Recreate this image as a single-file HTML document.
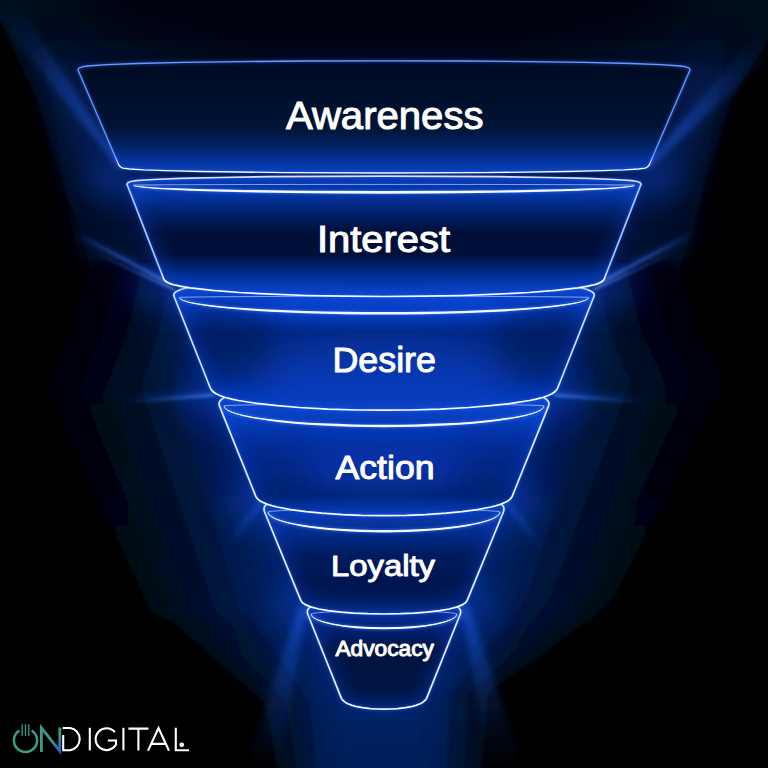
<!DOCTYPE html>
<html><head><meta charset="utf-8"><style>
html,body{margin:0;padding:0;background:#000;width:768px;height:768px;overflow:hidden}
svg{display:block}
</style></head><body>
<svg width="768" height="768" viewBox="0 0 768 768">
<defs>
<filter id="b2" filterUnits="userSpaceOnUse" x="-100" y="-100" width="968" height="968"><feGaussianBlur stdDeviation="1.5"/></filter>
<filter id="b3" filterUnits="userSpaceOnUse" x="-200" y="-200" width="1168" height="1168"><feGaussianBlur stdDeviation="3"/></filter>
<filter id="b8" filterUnits="userSpaceOnUse" x="-200" y="-200" width="1168" height="1168"><feGaussianBlur stdDeviation="8"/></filter>
<filter id="b14" filterUnits="userSpaceOnUse" x="-200" y="-200" width="1168" height="1168"><feGaussianBlur stdDeviation="14"/></filter>
<filter id="b25" filterUnits="userSpaceOnUse" x="-200" y="-200" width="1168" height="1168"><feGaussianBlur stdDeviation="25"/></filter>
<filter id="b40" filterUnits="userSpaceOnUse" x="-200" y="-200" width="1168" height="1168"><feGaussianBlur stdDeviation="40"/></filter>
<linearGradient id="g_Awareness" gradientUnits="userSpaceOnUse" x1="0" y1="60.8" x2="0" y2="173"><stop offset="0.0018" stop-color="#000b22"/><stop offset="0.3494" stop-color="#000f2c"/><stop offset="0.5989" stop-color="#001436"/><stop offset="0.7772" stop-color="#02246a"/><stop offset="0.9109" stop-color="#0636a5"/><stop offset="1.0000" stop-color="#0842bc"/></linearGradient>
<linearGradient id="s_Awareness" gradientUnits="userSpaceOnUse" x1="0" y1="60.8" x2="0" y2="173"><stop offset="0" stop-color="#6d9cff"/><stop offset="0.120" stop-color="#6d9cff"/><stop offset="0.848" stop-color="#6d9cff"/><stop offset="0.938" stop-color="#f4f8ff"/></linearGradient>
<linearGradient id="g_Interest" gradientUnits="userSpaceOnUse" x1="0" y1="176.1" x2="0" y2="296.5"><stop offset="0.0000" stop-color="#0638b0"/><stop offset="0.1570" stop-color="#0536a5"/><stop offset="0.3065" stop-color="#01206a"/><stop offset="0.4726" stop-color="#000f36"/><stop offset="0.6553" stop-color="#00103e"/><stop offset="0.7965" stop-color="#022a85"/><stop offset="0.9460" stop-color="#0840c0"/><stop offset="1.0000" stop-color="#0944c5"/></linearGradient>
<linearGradient id="s_Interest" gradientUnits="userSpaceOnUse" x1="0" y1="176.1" x2="0" y2="296.5"><stop offset="0" stop-color="#dfe8ff"/><stop offset="0.120" stop-color="#a9c3ff"/><stop offset="0.780" stop-color="#a9c3ff"/><stop offset="0.863" stop-color="#f4f8ff"/></linearGradient>
<linearGradient id="g_Desire" gradientUnits="userSpaceOnUse" x1="0" y1="276.7" x2="0" y2="410.2"><stop offset="0.0022" stop-color="#0a45d0"/><stop offset="0.1745" stop-color="#0a45d0"/><stop offset="0.3094" stop-color="#0638b5"/><stop offset="0.4142" stop-color="#02237a"/><stop offset="0.5640" stop-color="#02287f"/><stop offset="0.7738" stop-color="#0433a5"/><stop offset="0.9236" stop-color="#063bb8"/><stop offset="0.9985" stop-color="#0a45cc"/></linearGradient>
<linearGradient id="s_Desire" gradientUnits="userSpaceOnUse" x1="0" y1="276.7" x2="0" y2="410.2"><stop offset="0" stop-color="#dfe8ff"/><stop offset="0.120" stop-color="#d0deff"/><stop offset="0.768" stop-color="#d0deff"/><stop offset="0.843" stop-color="#f4f8ff"/></linearGradient>
<linearGradient id="g_Action" gradientUnits="userSpaceOnUse" x1="0" y1="381.2" x2="0" y2="515.6"><stop offset="0.0000" stop-color="#0a45c8"/><stop offset="0.2143" stop-color="#0a45c8"/><stop offset="0.3631" stop-color="#0638b0"/><stop offset="0.4896" stop-color="#04309e"/><stop offset="0.6756" stop-color="#042e9a"/><stop offset="0.8467" stop-color="#02236e"/><stop offset="0.9435" stop-color="#0533a0"/><stop offset="1.0000" stop-color="#0840b8"/></linearGradient>
<linearGradient id="s_Action" gradientUnits="userSpaceOnUse" x1="0" y1="381.2" x2="0" y2="515.6"><stop offset="0" stop-color="#dfe8ff"/><stop offset="0.120" stop-color="#dde7ff"/><stop offset="0.787" stop-color="#dde7ff"/><stop offset="0.862" stop-color="#f4f8ff"/></linearGradient>
<linearGradient id="g_Loyalty" gradientUnits="userSpaceOnUse" x1="0" y1="486.7" x2="0" y2="614"><stop offset="0.0024" stop-color="#083ab0"/><stop offset="0.2223" stop-color="#083ab0"/><stop offset="0.3794" stop-color="#042a88"/><stop offset="0.5365" stop-color="#001c5e"/><stop offset="0.7329" stop-color="#001552"/><stop offset="0.8900" stop-color="#001a58"/><stop offset="1.0000" stop-color="#042a85"/></linearGradient>
<linearGradient id="s_Loyalty" gradientUnits="userSpaceOnUse" x1="0" y1="486.7" x2="0" y2="614"><stop offset="0" stop-color="#dfe8ff"/><stop offset="0.120" stop-color="#e4ecff"/><stop offset="0.821" stop-color="#e4ecff"/><stop offset="0.899" stop-color="#f4f8ff"/></linearGradient>
<linearGradient id="g_Advocacy" gradientUnits="userSpaceOnUse" x1="0" y1="595.1" x2="0" y2="709.2"><stop offset="0.0000" stop-color="#06309a"/><stop offset="0.1481" stop-color="#06309a"/><stop offset="0.3059" stop-color="#022070"/><stop offset="0.4812" stop-color="#00143f"/><stop offset="0.8317" stop-color="#001545"/><stop offset="0.9982" stop-color="#001a55"/></linearGradient>
<linearGradient id="s_Advocacy" gradientUnits="userSpaceOnUse" x1="0" y1="595.1" x2="0" y2="709.2"><stop offset="0" stop-color="#dfe8ff"/><stop offset="0.120" stop-color="#e4ecff"/><stop offset="0.823" stop-color="#e4ecff"/><stop offset="0.911" stop-color="#f4f8ff"/></linearGradient>
</defs>
<rect width="768" height="768" fill="#000"/>
<g filter="url(#b3)">
<polygon points="-30,-30 -30,20 0,20 37,100 62,183 83,237 92,280 676,280 688,245 706,183 731,100 768,40 798,40 798,-30" fill="#000a1e"/>
</g>
<g filter="url(#b3)">
<linearGradient id="lg0" gradientUnits="userSpaceOnUse" x1="0" y1="380" x2="0" y2="660"><stop offset="0" stop-color="#01030a"/><stop offset="1" stop-color="#010a1c"/></linearGradient>
<polygon points="92,262 71,333 46,387 151,612 176,625 265,703 283,800 480,800 488,693 594,617 614,597 726,382 698,333 676,262" fill="url(#lg0)"/>
<linearGradient id="lg1" gradientUnits="userSpaceOnUse" x1="0" y1="380" x2="0" y2="660"><stop offset="0" stop-color="#000614"/><stop offset="1" stop-color="#000e26"/></linearGradient>
<polygon points="121.2,262 102.3,333 79.8,387 174.3,612 196.8,625 276.9,703 293.1,800 470.4,800 477.6,693 573,617 591,597 691.8,382 666.6,333 646.8,262" fill="url(#lg1)"/>
<linearGradient id="lg2" gradientUnits="userSpaceOnUse" x1="0" y1="380" x2="0" y2="660"><stop offset="0" stop-color="#000b22"/><stop offset="1" stop-color="#001230"/></linearGradient>
<polygon points="144.6,262 127.3,333 106.8,387 192.9,612 213.4,625 286.4,703 301.2,800 462.7,800 469.3,693 556.2,617 572.6,597 664.4,382 641.5,333 623.4,262" fill="url(#lg2)"/>
<linearGradient id="lg3" gradientUnits="userSpaceOnUse" x1="0" y1="380" x2="0" y2="660"><stop offset="0" stop-color="#001235"/><stop offset="1" stop-color="#00173e"/></linearGradient>
<polygon points="173.8,262 158.6,333 140.6,387 216.2,612 234.2,625 298.3,703 311.3,800 453.1,800 458.9,693 535.2,617 549.6,597 630.2,382 610.1,333 594.2,262" fill="url(#lg3)"/>
<linearGradient id="lg4" gradientUnits="userSpaceOnUse" x1="0" y1="380" x2="0" y2="660"><stop offset="0" stop-color="#001846"/><stop offset="1" stop-color="#001c50"/></linearGradient>
<polygon points="203,262 189.9,333 174.4,387 239.5,612 255,625 310.2,703 321.4,800 443.5,800 448.5,693 514.2,617 526.6,597 596,382 578.7,333 565,262" fill="url(#lg4)"/>
</g>
<polygon points="238,262 227.5,333 215,387 267.5,612 280,625 324.5,703 333.5,800 432,800 436,693 489,617 499,597 555,382 541,333 530,262" fill="#002060" opacity="0.7" filter="url(#b14)"/>
<polygon points="40,40 728,40 690,260 78,260" fill="#000f30" opacity="0.6" filter="url(#b14)"/>
<ellipse cx="384" cy="0" rx="300" ry="60" fill="#000510" opacity="0.8" filter="url(#b14)"/>
<polygon points="40,60 80,70 122,168 170,200 90,200" fill="#0a3aa0" opacity="0.35" filter="url(#b14)"/>
<polygon points="728,60 688,70 646,168 598,200 678,200" fill="#0a3aa0" opacity="0.35" filter="url(#b14)"/>
<path d="M113 184.3 L113.6 181.8 L115.6 179.4 L118.9 177.3 L123.3 175.6 L129.2 174.4 L132.6 173.9 L151.2 172.6 L192.4 171.1 L246.8 170 L312.4 169.3 L384 169.1 L455.6 169.3 L521.2 170 L575.6 171.1 L616.8 172.6 L635.4 173.9 L638.8 174.4 L644.7 175.6 L649.1 177.3 L652.4 179.4 L654.4 181.8 L655 184.3 L654.4 186.8 L616.4 285.9 L612.8 290.7 L608.3 294.1 L606.8 294.9 L601.3 297.2 L597.6 298.4 L586.2 300.7 L562 303.8 L536.7 306 L506.3 307.8 L466.7 309.3 L428.9 310.2 L384 310.5 L339.1 310.2 L301.3 309.3 L261.7 307.8 L231.3 306 L206 303.8 L181.8 300.7 L170.4 298.4 L166.7 297.2 L161.2 294.9 L159.7 294.1 L155.2 290.7 L151.6 285.9 L113.6 186.8 Z" fill="#0634a8" opacity="0.24" filter="url(#b25)"/>
<path d="M124 184.3 L124.3 183.3 L125.2 182.2 L126.7 181.2 L128.8 180.4 L133 179.5 L146.5 178.4 L169.1 177.3 L210.5 176.2 L263.8 175.3 L325.2 174.8 L384 174.6 L442.8 174.8 L504.2 175.3 L557.5 176.2 L598.9 177.3 L621.5 178.4 L635 179.5 L639.2 180.4 L641.3 181.2 L642.8 182.2 L643.7 183.3 L644 184.3 L606.9 280.4 L605 282.9 L602.8 284.5 L601.3 285.4 L597.4 287 L593.2 288.1 L587.7 289.3 L578.5 290.8 L555.4 293.4 L528.5 295.5 L496.9 297.2 L461.4 298.5 L423.4 299.2 L384 299.5 L344.6 299.2 L306.6 298.5 L271.1 297.2 L239.5 295.5 L212.6 293.4 L189.5 290.8 L180.3 289.3 L174.8 288.1 L170.6 287 L166.7 285.4 L165.2 284.5 L163 282.9 L161.1 280.4 Z" fill="#0838b0" opacity="0.18" filter="url(#b8)"/>
<path d="M159.7 295 L160.6 291.7 L163.4 288.6 L167.8 285.8 L173.7 283.5 L179.2 281.9 L189.4 279.8 L198.7 278.3 L209.9 276.9 L223 275.6 L241.7 274.1 L263.3 272.7 L286 271.6 L330.9 270.2 L384 269.7 L437.1 270.2 L482 271.6 L504.7 272.7 L526.3 274.1 L545 275.6 L558.1 276.9 L569.3 278.3 L578.6 279.8 L588.8 281.9 L594.3 283.5 L600.2 285.8 L604.6 288.6 L607.4 291.7 L608.3 295 L607.6 297.9 L569.5 395.7 L565.3 401.2 L559.1 405.8 L548.5 410.2 L537.7 413.1 L520.5 416.1 L497.3 419.1 L472.5 421.3 L444.7 422.9 L414.9 423.9 L384 424.2 L353.1 423.9 L323.3 422.9 L295.5 421.3 L270.7 419.1 L247.5 416.1 L230.3 413.1 L219.5 410.2 L208.9 405.8 L202.7 401.2 L198.5 395.7 L160.4 297.9 Z" fill="#0634a8" opacity="0.4" filter="url(#b25)"/>
<path d="M170.7 295 L171 293.6 L172.1 292.2 L172.9 291.3 L174.8 290.1 L179.2 288.3 L183.2 287 L190.3 285.5 L199 284 L209.8 282.5 L222.4 281.2 L254.8 278.7 L295.6 276.7 L341.3 275.5 L384 275.2 L426.7 275.5 L472.4 276.7 L513.2 278.7 L545.6 281.2 L558.2 282.5 L569 284 L577.7 285.5 L584.8 287 L588.8 288.3 L593.2 290.1 L595.1 291.3 L595.9 292.2 L597 293.6 L597.3 295 L597 296.4 L560 390.2 L557.5 393.5 L553.6 396.3 L548.4 398.6 L544.1 400.1 L532.7 402.9 L514.8 405.9 L494 408.4 L472.5 410.3 L444.7 411.9 L414.9 412.9 L384 413.2 L357.5 413 L327.5 412.1 L299.4 410.5 L274 408.4 L253.2 405.9 L235.3 402.9 L223.9 400.1 L219.6 398.6 L214.4 396.3 L210.5 393.5 L208 390.2 L171 296.4 Z" fill="#0838b0" opacity="0.3" filter="url(#b8)"/>
<path d="M205 403.6 L205.9 399.7 L207.8 395.1 L210.8 391.2 L214.7 388.2 L219.3 386.3 L272 379.6 L299.1 377.2 L318.9 375.9 L338.6 375 L363.1 374.4 L384 374.2 L409 374.4 L429.4 375 L449.1 375.9 L468.9 377.2 L496 379.6 L548.7 386.3 L553.3 388.2 L557.2 391.2 L560.2 395.1 L562.1 399.7 L563 403.6 L562.1 409.6 L524.3 503.4 L520.4 508.7 L514.8 513.1 L511.4 514.9 L504.7 517.7 L496.3 520.2 L483.2 522.8 L467 525.1 L448.8 527 L428.4 528.4 L406.6 529.3 L384 529.6 L361.4 529.3 L339.6 528.4 L319.2 527 L301 525.1 L284.8 522.8 L271.7 520.2 L263.3 517.7 L256.6 514.9 L253.2 513.1 L247.6 508.7 L243.7 503.4 L205.9 409.6 Z" fill="#0634a8" opacity="0.4" filter="url(#b25)"/>
<path d="M216 403.6 L216.8 401 L219 398.5 L222.8 396.1 L227.8 394 L233.8 392 L241.4 390.2 L250.1 388.5 L260.3 386.8 L284.5 383.9 L315.1 381.6 L346.6 380.2 L384 379.7 L421.4 380.2 L452.9 381.6 L483.5 383.9 L507.7 386.8 L517.9 388.5 L526.6 390.2 L534.2 392 L540.2 394 L545.2 396.1 L549 398.5 L551.2 401 L552 403.6 L551.5 406.7 L514.8 497.9 L512.6 501 L509.3 503.6 L506.9 504.9 L501.8 507 L493.5 509.5 L480.4 512.2 L464.5 514.4 L446 516.2 L428.4 517.4 L406.6 518.3 L384 518.6 L361.4 518.3 L339.6 517.4 L322 516.2 L303.5 514.4 L287.6 512.2 L274.5 509.5 L266.2 507 L261.1 504.9 L258.7 503.6 L255.4 501 L253.2 497.9 L216.5 406.7 Z" fill="#0838b0" opacity="0.3" filter="url(#b8)"/>
<path d="M250 509 L250.8 505.1 L252.7 500.5 L255.7 496.6 L259.7 493.6 L264.2 491.7 L302.1 485.1 L321.6 482.7 L335.1 481.5 L354.2 480.4 L369 479.9 L384 479.7 L399 479.9 L413.8 480.4 L432.9 481.5 L446.4 482.7 L465.9 485.1 L503.8 491.7 L508.3 493.6 L512.3 496.6 L515.3 500.5 L517.2 505.1 L518 509 L517 515.5 L481.2 602.7 L479.2 607.6 L475.5 612.5 L469.8 616.7 L462.7 619.8 L456.3 621.7 L447.6 623.4 L432.1 625.6 L418 626.9 L400.4 627.7 L384 628 L367.6 627.7 L350 626.9 L335.9 625.6 L320.4 623.4 L311.7 621.7 L305.3 619.8 L298.2 616.7 L292.5 612.5 L288.8 607.6 L286.8 602.7 L251 515.5 Z" fill="#0634a8" opacity="0.27999999999999997" filter="url(#b25)"/>
<path d="M261 509 L261.6 506.4 L263.5 503.9 L266 501.9 L269.9 499.6 L276.2 497 L281.9 495.2 L288.8 493.5 L296.5 491.9 L314.3 489.1 L335.2 487 L360.1 485.6 L384 485.2 L407.9 485.6 L432.8 487 L453.7 489.1 L471.5 491.9 L479.2 493.5 L486.1 495.2 L491.8 497 L498.1 499.6 L502 501.9 L504.5 503.9 L506.4 506.4 L507 509 L506.4 512.6 L470.6 599.9 L469.7 602.1 L467.7 604.7 L464.3 607.2 L458.2 609.7 L451.2 611.6 L441.9 613.3 L428.7 614.9 L416.1 616 L400.4 616.7 L384 617 L367.6 616.7 L351.9 616 L339.3 614.9 L326.1 613.3 L316.8 611.6 L309.8 609.7 L303.7 607.2 L300.3 604.7 L298.3 602.1 L297.4 599.9 L261.6 512.6 Z" fill="#0838b0" opacity="0.21" filter="url(#b8)"/>
<path d="M293.3 611.7 L294.2 607.9 L296.1 603.3 L299.1 599.4 L303 596.4 L307.6 594.5 L351.6 589.5 L369.1 588.4 L384 588.1 L398.9 588.4 L416.4 589.5 L460.4 594.5 L465 596.4 L468.9 599.4 L471.9 603.3 L473.8 607.9 L474.7 611.7 L473.8 617.7 L440.5 700.9 L438.5 705.7 L435.2 710.1 L434 711.3 L428.6 715.2 L421.7 718.2 L416.8 719.7 L409.8 721.1 L399.6 722.4 L392 723 L384 723.2 L376 723 L368.4 722.4 L358.2 721.1 L351.2 719.7 L346.3 718.2 L339.4 715.2 L334 711.3 L332.8 710.1 L329.5 705.7 L327.5 700.9 L294.2 617.7 Z" fill="#0634a8" opacity="0.27999999999999997" filter="url(#b25)"/>
<path d="M304.3 611.7 L304.8 609.6 L305.5 608.5 L307.4 606.4 L310.2 604.5 L312.8 603.1 L317 601.5 L325.5 599.1 L336.8 596.9 L351.1 595.1 L367.3 594 L384 593.6 L400.7 594 L416.9 595.1 L431.2 596.9 L442.5 599.1 L451 601.5 L455.2 603.1 L457.8 604.5 L460.6 606.4 L462.5 608.5 L463.2 609.6 L463.7 611.7 L463.2 614.9 L429.9 698 L429 700.2 L427.4 702.3 L424.5 704.8 L422.2 706.1 L417.7 707.9 L412.5 709.4 L407 710.4 L398.7 711.5 L391 712 L384 712.2 L377 712 L369.3 711.5 L361 710.4 L355.5 709.4 L350.3 707.9 L345.8 706.1 L343.5 704.8 L340.6 702.3 L339 700.2 L338.1 698 L304.8 614.9 Z" fill="#0838b0" opacity="0.21" filter="url(#b8)"/>
<ellipse cx="128" cy="175.5" rx="42" ry="24" fill="#0a45d0" opacity="0.25" filter="url(#b14)"/>
<ellipse cx="640" cy="175.5" rx="42" ry="24" fill="#0a45d0" opacity="0.25" filter="url(#b14)"/>
<ellipse cx="173" cy="286.5" rx="42" ry="24" fill="#0a45d0" opacity="0.35" filter="url(#b14)"/>
<ellipse cx="595" cy="286.5" rx="42" ry="24" fill="#0a45d0" opacity="0.35" filter="url(#b14)"/>
<ellipse cx="220" cy="395.5" rx="42" ry="24" fill="#0a45d0" opacity="0.35" filter="url(#b14)"/>
<ellipse cx="548" cy="395.5" rx="42" ry="24" fill="#0a45d0" opacity="0.35" filter="url(#b14)"/>
<ellipse cx="265" cy="502" rx="42" ry="24" fill="#0a45d0" opacity="0.35" filter="url(#b14)"/>
<ellipse cx="503" cy="502" rx="42" ry="24" fill="#0a45d0" opacity="0.35" filter="url(#b14)"/>
<ellipse cx="310" cy="605.5" rx="42" ry="24" fill="#0a45d0" opacity="0.3" filter="url(#b14)"/>
<ellipse cx="458" cy="605.5" rx="42" ry="24" fill="#0a45d0" opacity="0.3" filter="url(#b14)"/>
<defs><linearGradient id="r0" gradientUnits="userSpaceOnUse" x1="0" y1="0" x2="122" y2="168"><stop offset="0" stop-color="#1a5cff" stop-opacity="0"/><stop offset="1" stop-color="#2a6cff" stop-opacity="0.5"/></linearGradient><linearGradient id="r1" gradientUnits="userSpaceOnUse" x1="768" y1="40" x2="646" y2="168"><stop offset="0" stop-color="#1a5cff" stop-opacity="0"/><stop offset="1" stop-color="#2a6cff" stop-opacity="0.5"/></linearGradient><linearGradient id="r2" gradientUnits="userSpaceOnUse" x1="70" y1="232" x2="170" y2="282"><stop offset="0" stop-color="#1a5cff" stop-opacity="0"/><stop offset="1" stop-color="#2a6cff" stop-opacity="0.7"/></linearGradient><linearGradient id="r3" gradientUnits="userSpaceOnUse" x1="698" y1="232" x2="598" y2="282"><stop offset="0" stop-color="#1a5cff" stop-opacity="0"/><stop offset="1" stop-color="#2a6cff" stop-opacity="0.7"/></linearGradient><linearGradient id="r4" gradientUnits="userSpaceOnUse" x1="120" y1="400" x2="212" y2="394"><stop offset="0" stop-color="#1a5cff" stop-opacity="0"/><stop offset="1" stop-color="#2a6cff" stop-opacity="0.6"/></linearGradient><linearGradient id="r5" gradientUnits="userSpaceOnUse" x1="648" y1="400" x2="556" y2="394"><stop offset="0" stop-color="#1a5cff" stop-opacity="0"/><stop offset="1" stop-color="#2a6cff" stop-opacity="0.6"/></linearGradient><linearGradient id="r6" gradientUnits="userSpaceOnUse" x1="225" y1="548" x2="262" y2="502"><stop offset="0" stop-color="#1a5cff" stop-opacity="0"/><stop offset="1" stop-color="#2a6cff" stop-opacity="0.6"/></linearGradient><linearGradient id="r7" gradientUnits="userSpaceOnUse" x1="543" y1="548" x2="506" y2="502"><stop offset="0" stop-color="#1a5cff" stop-opacity="0"/><stop offset="1" stop-color="#2a6cff" stop-opacity="0.6"/></linearGradient><linearGradient id="r8" gradientUnits="userSpaceOnUse" x1="290" y1="520" x2="262" y2="502"><stop offset="0" stop-color="#1a5cff" stop-opacity="0"/><stop offset="1" stop-color="#2a6cff" stop-opacity="0.4"/></linearGradient><linearGradient id="r9" gradientUnits="userSpaceOnUse" x1="478" y1="520" x2="506" y2="502"><stop offset="0" stop-color="#1a5cff" stop-opacity="0"/><stop offset="1" stop-color="#2a6cff" stop-opacity="0.4"/></linearGradient><linearGradient id="r10" gradientUnits="userSpaceOnUse" x1="262" y1="768" x2="303" y2="606"><stop offset="0" stop-color="#1a5cff" stop-opacity="0"/><stop offset="1" stop-color="#2a6cff" stop-opacity="0.4"/></linearGradient><linearGradient id="r11" gradientUnits="userSpaceOnUse" x1="506" y1="768" x2="465" y2="606"><stop offset="0" stop-color="#1a5cff" stop-opacity="0"/><stop offset="1" stop-color="#2a6cff" stop-opacity="0.4"/></linearGradient><linearGradient id="r12" gradientUnits="userSpaceOnUse" x1="345" y1="540" x2="305" y2="618"><stop offset="0" stop-color="#1a5cff" stop-opacity="0"/><stop offset="1" stop-color="#2a6cff" stop-opacity="0.35"/></linearGradient><linearGradient id="r13" gradientUnits="userSpaceOnUse" x1="423" y1="540" x2="463" y2="618"><stop offset="0" stop-color="#1a5cff" stop-opacity="0"/><stop offset="1" stop-color="#2a6cff" stop-opacity="0.35"/></linearGradient></defs>
<g filter="url(#b3)"><polygon points="-10.5,7.6 119.6,169.8 124.4,166.2 10.5,-7.6" fill="url(#r0)"/><polygon points="758.6,31 643.8,165.9 648.2,170.1 777.4,49" fill="url(#r1)"/><polygon points="68.2,235.6 169.3,283.3 170.7,280.7 71.8,228.4" fill="url(#r2)"/><polygon points="696.2,228.4 597.3,280.7 598.7,283.3 699.8,235.6" fill="url(#r3)"/><polygon points="120.2,403 212.1,395.5 211.9,392.5 119.8,397" fill="url(#r4)"/><polygon points="648.2,397 556.1,392.5 555.9,395.5 647.8,403" fill="url(#r5)"/><polygon points="227.3,549.9 263.2,502.9 260.8,501.1 222.7,546.1" fill="url(#r6)"/><polygon points="545.3,546.1 507.2,501.1 504.8,502.9 540.7,549.9" fill="url(#r7)"/><polygon points="291.4,517.9 262.8,500.7 261.2,503.3 288.6,522.1" fill="url(#r8)"/><polygon points="479.4,522.1 506.8,503.3 505.2,500.7 476.6,517.9" fill="url(#r9)"/><polygon points="278.5,772.2 306.9,607 299.1,605 245.5,763.8" fill="url(#r10)"/><polygon points="522.5,763.8 468.9,605 461.1,607 489.5,772.2" fill="url(#r11)"/><polygon points="343.2,539.1 301.4,616.2 308.6,619.8 346.8,540.9" fill="url(#r12)"/><polygon points="421.2,540.9 459.4,619.8 466.6,616.2 424.8,539.1" fill="url(#r13)"/></g>
<linearGradient id="sl0" gradientUnits="userSpaceOnUse" x1="75" y1="233" x2="170" y2="284"><stop offset="0" stop-color="#4a8aff" stop-opacity="0"/><stop offset="0.6" stop-color="#4a8aff" stop-opacity="0.5"/><stop offset="1" stop-color="#6a9eff" stop-opacity="0.7"/></linearGradient>
<line x1="75" y1="233" x2="170" y2="284" stroke="url(#sl0)" stroke-width="2" filter="url(#b2)"/>
<linearGradient id="sl1" gradientUnits="userSpaceOnUse" x1="693" y1="233" x2="598" y2="284"><stop offset="0" stop-color="#4a8aff" stop-opacity="0"/><stop offset="0.6" stop-color="#4a8aff" stop-opacity="0.5"/><stop offset="1" stop-color="#6a9eff" stop-opacity="0.7"/></linearGradient>
<line x1="693" y1="233" x2="598" y2="284" stroke="url(#sl1)" stroke-width="2" filter="url(#b2)"/>
<linearGradient id="sl2" gradientUnits="userSpaceOnUse" x1="95" y1="253" x2="175" y2="290"><stop offset="0" stop-color="#4a8aff" stop-opacity="0"/><stop offset="0.6" stop-color="#4a8aff" stop-opacity="0.5"/><stop offset="1" stop-color="#6a9eff" stop-opacity="0.7"/></linearGradient>
<line x1="95" y1="253" x2="175" y2="290" stroke="url(#sl2)" stroke-width="2" filter="url(#b2)"/>
<linearGradient id="sl3" gradientUnits="userSpaceOnUse" x1="673" y1="253" x2="593" y2="290"><stop offset="0" stop-color="#4a8aff" stop-opacity="0"/><stop offset="0.6" stop-color="#4a8aff" stop-opacity="0.5"/><stop offset="1" stop-color="#6a9eff" stop-opacity="0.7"/></linearGradient>
<line x1="673" y1="253" x2="593" y2="290" stroke="url(#sl3)" stroke-width="2" filter="url(#b2)"/>
<linearGradient id="sl4" gradientUnits="userSpaceOnUse" x1="130" y1="402" x2="214" y2="395"><stop offset="0" stop-color="#4a8aff" stop-opacity="0"/><stop offset="0.6" stop-color="#4a8aff" stop-opacity="0.5"/><stop offset="1" stop-color="#6a9eff" stop-opacity="0.7"/></linearGradient>
<line x1="130" y1="402" x2="214" y2="395" stroke="url(#sl4)" stroke-width="2" filter="url(#b2)"/>
<linearGradient id="sl5" gradientUnits="userSpaceOnUse" x1="638" y1="402" x2="554" y2="395"><stop offset="0" stop-color="#4a8aff" stop-opacity="0"/><stop offset="0.6" stop-color="#4a8aff" stop-opacity="0.5"/><stop offset="1" stop-color="#6a9eff" stop-opacity="0.7"/></linearGradient>
<line x1="638" y1="402" x2="554" y2="395" stroke="url(#sl5)" stroke-width="2" filter="url(#b2)"/>
<path d="M307.3 611.7 L307.7 609.9 L308.9 608.2 L310.4 606.8 L312.9 605.2 L319.4 602.5 L328.2 600.1 L340.6 597.9 L353.5 596.4 L369.1 595.4 L384 595.1 L398.9 595.4 L414.5 596.4 L427.4 597.9 L439.8 600.1 L448.6 602.5 L455.1 605.2 L457.6 606.8 L459.1 608.2 L460.3 609.9 L460.7 611.7 L460.3 614.1 L427 697.3 L426.4 698.7 L425.3 700.2 L422.7 702.4 L420.2 703.7 L415.8 705.4 L411 706.7 L405.4 707.7 L397.8 708.6 L391 709 L384 709.2 L377 709 L370.2 708.6 L362.6 707.7 L357 706.7 L352.2 705.4 L347.8 703.7 L345.3 702.4 L342.7 700.2 L341.6 698.7 L341 697.3 L307.7 614.1 Z" fill="url(#g_Advocacy)"/>
<g clip-path="url(#cc_Advocacy)"><path d="M307.3 611.7 L307.7 609.9 L308.9 608.2 L310.4 606.8 L312.9 605.2 L319.4 602.5 L328.2 600.1 L340.6 597.9 L353.5 596.4 L369.1 595.4 L384 595.1 L398.9 595.4 L414.5 596.4 L427.4 597.9 L439.8 600.1 L448.6 602.5 L455.1 605.2 L457.6 606.8 L459.1 608.2 L460.3 609.9 L460.7 611.7 L460.3 614.1 L427 697.3 L426.4 698.7 L425.3 700.2 L422.7 702.4 L420.2 703.7 L415.8 705.4 L411 706.7 L405.4 707.7 L397.8 708.6 L391 709 L384 709.2 L377 709 L370.2 708.6 L362.6 707.7 L357 706.7 L352.2 705.4 L347.8 703.7 L345.3 702.4 L342.7 700.2 L341.6 698.7 L341 697.3 L307.7 614.1 Z" fill="none" stroke="#0a45d0" stroke-width="16" opacity="0.3" filter="url(#b8)"/></g>
<clipPath id="cc_Advocacy"><path d="M307.3 611.7 L307.7 609.9 L308.9 608.2 L310.4 606.8 L312.9 605.2 L319.4 602.5 L328.2 600.1 L340.6 597.9 L353.5 596.4 L369.1 595.4 L384 595.1 L398.9 595.4 L414.5 596.4 L427.4 597.9 L439.8 600.1 L448.6 602.5 L455.1 605.2 L457.6 606.8 L459.1 608.2 L460.3 609.9 L460.7 611.7 L460.3 614.1 L427 697.3 L426.4 698.7 L425.3 700.2 L422.7 702.4 L420.2 703.7 L415.8 705.4 L411 706.7 L405.4 707.7 L397.8 708.6 L391 709 L384 709.2 L377 709 L370.2 708.6 L362.6 707.7 L357 706.7 L352.2 705.4 L347.8 703.7 L345.3 702.4 L342.7 700.2 L341.6 698.7 L341 697.3 L307.7 614.1 Z"/></clipPath>
<path d="M307.3 611.7 L307.7 609.9 L308.9 608.2 L310.4 606.8 L312.9 605.2 L319.4 602.5 L328.2 600.1 L340.6 597.9 L353.5 596.4 L369.1 595.4 L384 595.1 L398.9 595.4 L414.5 596.4 L427.4 597.9 L439.8 600.1 L448.6 602.5 L455.1 605.2 L457.6 606.8 L459.1 608.2 L460.3 609.9 L460.7 611.7 L460.3 614.1 L427 697.3 L426.4 698.7 L425.3 700.2 L422.7 702.4 L420.2 703.7 L415.8 705.4 L411 706.7 L405.4 707.7 L397.8 708.6 L391 709 L384 709.2 L377 709 L370.2 708.6 L362.6 707.7 L357 706.7 L352.2 705.4 L347.8 703.7 L345.3 702.4 L342.7 700.2 L341.6 698.7 L341 697.3 L307.7 614.1 Z" fill="none" stroke="#2a6bff" stroke-width="3" opacity="0.4" filter="url(#b2)"/>
<path d="M307.3 611.7 L307.7 609.9 L308.9 608.2 L310.4 606.8 L312.9 605.2 L319.4 602.5 L328.2 600.1 L340.6 597.9 L353.5 596.4 L369.1 595.4 L384 595.1 L398.9 595.4 L414.5 596.4 L427.4 597.9 L439.8 600.1 L448.6 602.5 L455.1 605.2 L457.6 606.8 L459.1 608.2 L460.3 609.9 L460.7 611.7 L460.3 614.1 L427 697.3 L426.4 698.7 L425.3 700.2 L422.7 702.4 L420.2 703.7 L415.8 705.4 L411 706.7 L405.4 707.7 L397.8 708.6 L391 709 L384 709.2 L377 709 L370.2 708.6 L362.6 707.7 L357 706.7 L352.2 705.4 L347.8 703.7 L345.3 702.4 L342.7 700.2 L341.6 698.7 L341 697.3 L307.7 614.1 Z" fill="none" stroke="url(#s_Advocacy)" stroke-width="1.7"/>
<path d="M 311 614 A 73 14.3 0 0 0 457 614" fill="none" stroke="#3a7bff" stroke-width="3.5" opacity="0.6" filter="url(#b2)"/>
<path d="M 311 614 A 73 15.3 0 0 0 457 614 A 73 13.3 0 0 1 311 614 Z" fill="#f4f8ff"/>
<path d="M 311 614 A 73 14.3 0 0 0 457 614" fill="none" stroke="#f4f8ff" stroke-width="0.8"/>
<path d="M 311 614 A 73 3 0 0 1 457 614" fill="none" stroke="#c0d4ff" stroke-width="0.9" opacity="0.75"/>
<path d="M264 509 L264.3 507.3 L264.8 506.3 L266.6 504.1 L269.4 502.1 L273.1 500.1 L277.7 498.3 L283.4 496.5 L290.3 494.8 L299.3 493 L317.6 490.3 L338.7 488.3 L360.1 487.1 L384 486.7 L407.9 487.1 L429.3 488.3 L450.4 490.3 L468.7 493 L477.7 494.8 L484.6 496.5 L490.3 498.3 L494.9 500.1 L498.6 502.1 L501.4 504.1 L503.2 506.3 L503.7 507.3 L504 509 L503.5 511.8 L467.7 599.1 L466.9 600.9 L465.6 602.6 L462.2 604.9 L456.6 607.1 L449.2 609 L439.7 610.6 L427 612.1 L414.2 613.1 L400.4 613.7 L384 614 L367.6 613.7 L353.8 613.1 L341 612.1 L328.3 610.6 L318.8 609 L311.4 607.1 L305.8 604.9 L302.4 602.6 L301.1 600.9 L300.3 599.1 L264.5 511.8 Z" fill="url(#g_Loyalty)"/>
<g clip-path="url(#cc_Loyalty)"><path d="M264 509 L264.3 507.3 L264.8 506.3 L266.6 504.1 L269.4 502.1 L273.1 500.1 L277.7 498.3 L283.4 496.5 L290.3 494.8 L299.3 493 L317.6 490.3 L338.7 488.3 L360.1 487.1 L384 486.7 L407.9 487.1 L429.3 488.3 L450.4 490.3 L468.7 493 L477.7 494.8 L484.6 496.5 L490.3 498.3 L494.9 500.1 L498.6 502.1 L501.4 504.1 L503.2 506.3 L503.7 507.3 L504 509 L503.5 511.8 L467.7 599.1 L466.9 600.9 L465.6 602.6 L462.2 604.9 L456.6 607.1 L449.2 609 L439.7 610.6 L427 612.1 L414.2 613.1 L400.4 613.7 L384 614 L367.6 613.7 L353.8 613.1 L341 612.1 L328.3 610.6 L318.8 609 L311.4 607.1 L305.8 604.9 L302.4 602.6 L301.1 600.9 L300.3 599.1 L264.5 511.8 Z" fill="none" stroke="#0a45d0" stroke-width="16" opacity="0.3" filter="url(#b8)"/></g>
<clipPath id="cc_Loyalty"><path d="M264 509 L264.3 507.3 L264.8 506.3 L266.6 504.1 L269.4 502.1 L273.1 500.1 L277.7 498.3 L283.4 496.5 L290.3 494.8 L299.3 493 L317.6 490.3 L338.7 488.3 L360.1 487.1 L384 486.7 L407.9 487.1 L429.3 488.3 L450.4 490.3 L468.7 493 L477.7 494.8 L484.6 496.5 L490.3 498.3 L494.9 500.1 L498.6 502.1 L501.4 504.1 L503.2 506.3 L503.7 507.3 L504 509 L503.5 511.8 L467.7 599.1 L466.9 600.9 L465.6 602.6 L462.2 604.9 L456.6 607.1 L449.2 609 L439.7 610.6 L427 612.1 L414.2 613.1 L400.4 613.7 L384 614 L367.6 613.7 L353.8 613.1 L341 612.1 L328.3 610.6 L318.8 609 L311.4 607.1 L305.8 604.9 L302.4 602.6 L301.1 600.9 L300.3 599.1 L264.5 511.8 Z"/></clipPath>
<path d="M264 509 L264.3 507.3 L264.8 506.3 L266.6 504.1 L269.4 502.1 L273.1 500.1 L277.7 498.3 L283.4 496.5 L290.3 494.8 L299.3 493 L317.6 490.3 L338.7 488.3 L360.1 487.1 L384 486.7 L407.9 487.1 L429.3 488.3 L450.4 490.3 L468.7 493 L477.7 494.8 L484.6 496.5 L490.3 498.3 L494.9 500.1 L498.6 502.1 L501.4 504.1 L503.2 506.3 L503.7 507.3 L504 509 L503.5 511.8 L467.7 599.1 L466.9 600.9 L465.6 602.6 L462.2 604.9 L456.6 607.1 L449.2 609 L439.7 610.6 L427 612.1 L414.2 613.1 L400.4 613.7 L384 614 L367.6 613.7 L353.8 613.1 L341 612.1 L328.3 610.6 L318.8 609 L311.4 607.1 L305.8 604.9 L302.4 602.6 L301.1 600.9 L300.3 599.1 L264.5 511.8 Z" fill="none" stroke="#2a6bff" stroke-width="3" opacity="0.4" filter="url(#b2)"/>
<path d="M264 509 L264.3 507.3 L264.8 506.3 L266.6 504.1 L269.4 502.1 L273.1 500.1 L277.7 498.3 L283.4 496.5 L290.3 494.8 L299.3 493 L317.6 490.3 L338.7 488.3 L360.1 487.1 L384 486.7 L407.9 487.1 L429.3 488.3 L450.4 490.3 L468.7 493 L477.7 494.8 L484.6 496.5 L490.3 498.3 L494.9 500.1 L498.6 502.1 L501.4 504.1 L503.2 506.3 L503.7 507.3 L504 509 L503.5 511.8 L467.7 599.1 L466.9 600.9 L465.6 602.6 L462.2 604.9 L456.6 607.1 L449.2 609 L439.7 610.6 L427 612.1 L414.2 613.1 L400.4 613.7 L384 614 L367.6 613.7 L353.8 613.1 L341 612.1 L328.3 610.6 L318.8 609 L311.4 607.1 L305.8 604.9 L302.4 602.6 L301.1 600.9 L300.3 599.1 L264.5 511.8 Z" fill="none" stroke="url(#s_Loyalty)" stroke-width="1.7"/>
<path d="M 268 512 A 116 19.2 0 0 0 500 512" fill="none" stroke="#3a7bff" stroke-width="3.5" opacity="0.6" filter="url(#b2)"/>
<path d="M 268 512 A 116 20.4 0 0 0 500 512 A 116 18.1 0 0 1 268 512 Z" fill="#f4f8ff"/>
<path d="M 268 512 A 116 19.2 0 0 0 500 512" fill="none" stroke="#f4f8ff" stroke-width="0.8"/>
<path d="M 268 512 A 116 3 0 0 1 500 512" fill="none" stroke="#c0d4ff" stroke-width="0.9" opacity="0.75"/>
<path d="M219 403.6 L219.7 401.4 L221.6 399.2 L224.9 397.2 L230.7 394.8 L237.1 392.9 L245.1 391 L253.3 389.5 L263.8 387.9 L288.7 385.1 L318.9 382.9 L350.7 381.6 L384 381.2 L417.3 381.6 L449.1 382.9 L479.3 385.1 L504.2 387.9 L514.7 389.5 L522.9 391 L530.9 392.9 L537.3 394.8 L543.1 397.2 L546.4 399.2 L548.3 401.4 L549 403.6 L548.6 405.9 L512.2 496.4 L510.5 498.8 L507.8 501 L505.4 502.3 L501.1 504.1 L495.8 505.8 L491 507 L477.4 509.6 L462 511.7 L446 513.2 L425.4 514.6 L406.6 515.3 L384 515.6 L361.4 515.3 L342.6 514.6 L322 513.2 L306 511.7 L290.6 509.6 L277 507 L272.2 505.8 L266.9 504.1 L262.6 502.3 L260.2 501 L257.5 498.8 L255.8 496.4 L219.4 405.9 Z" fill="url(#g_Action)"/>
<clipPath id="c_Action"><path d="M219 403.6 L219.7 401.4 L221.6 399.2 L224.9 397.2 L230.7 394.8 L237.1 392.9 L245.1 391 L253.3 389.5 L263.8 387.9 L288.7 385.1 L318.9 382.9 L350.7 381.6 L384 381.2 L417.3 381.6 L449.1 382.9 L479.3 385.1 L504.2 387.9 L514.7 389.5 L522.9 391 L530.9 392.9 L537.3 394.8 L543.1 397.2 L546.4 399.2 L548.3 401.4 L549 403.6 L548.6 405.9 L512.2 496.4 L510.5 498.8 L507.8 501 L505.4 502.3 L501.1 504.1 L495.8 505.8 L491 507 L477.4 509.6 L462 511.7 L446 513.2 L425.4 514.6 L406.6 515.3 L384 515.6 L361.4 515.3 L342.6 514.6 L322 513.2 L306 511.7 L290.6 509.6 L277 507 L272.2 505.8 L266.9 504.1 L262.6 502.3 L260.2 501 L257.5 498.8 L255.8 496.4 L219.4 405.9 Z"/></clipPath>
<g clip-path="url(#c_Action)">
<ellipse cx="384" cy="468" rx="110" ry="30" fill="#0838b8" opacity="0.45" filter="url(#b25)"/>
<ellipse cx="270" cy="480" rx="50" ry="30" fill="#001e66" opacity="0.5" filter="url(#b14)"/>
<ellipse cx="498" cy="480" rx="50" ry="30" fill="#001e66" opacity="0.5" filter="url(#b14)"/>
</g>
<g clip-path="url(#cc_Action)"><path d="M219 403.6 L219.7 401.4 L221.6 399.2 L224.9 397.2 L230.7 394.8 L237.1 392.9 L245.1 391 L253.3 389.5 L263.8 387.9 L288.7 385.1 L318.9 382.9 L350.7 381.6 L384 381.2 L417.3 381.6 L449.1 382.9 L479.3 385.1 L504.2 387.9 L514.7 389.5 L522.9 391 L530.9 392.9 L537.3 394.8 L543.1 397.2 L546.4 399.2 L548.3 401.4 L549 403.6 L548.6 405.9 L512.2 496.4 L510.5 498.8 L507.8 501 L505.4 502.3 L501.1 504.1 L495.8 505.8 L491 507 L477.4 509.6 L462 511.7 L446 513.2 L425.4 514.6 L406.6 515.3 L384 515.6 L361.4 515.3 L342.6 514.6 L322 513.2 L306 511.7 L290.6 509.6 L277 507 L272.2 505.8 L266.9 504.1 L262.6 502.3 L260.2 501 L257.5 498.8 L255.8 496.4 L219.4 405.9 Z" fill="none" stroke="#0a45d0" stroke-width="16" opacity="0.3" filter="url(#b8)"/></g>
<clipPath id="cc_Action"><path d="M219 403.6 L219.7 401.4 L221.6 399.2 L224.9 397.2 L230.7 394.8 L237.1 392.9 L245.1 391 L253.3 389.5 L263.8 387.9 L288.7 385.1 L318.9 382.9 L350.7 381.6 L384 381.2 L417.3 381.6 L449.1 382.9 L479.3 385.1 L504.2 387.9 L514.7 389.5 L522.9 391 L530.9 392.9 L537.3 394.8 L543.1 397.2 L546.4 399.2 L548.3 401.4 L549 403.6 L548.6 405.9 L512.2 496.4 L510.5 498.8 L507.8 501 L505.4 502.3 L501.1 504.1 L495.8 505.8 L491 507 L477.4 509.6 L462 511.7 L446 513.2 L425.4 514.6 L406.6 515.3 L384 515.6 L361.4 515.3 L342.6 514.6 L322 513.2 L306 511.7 L290.6 509.6 L277 507 L272.2 505.8 L266.9 504.1 L262.6 502.3 L260.2 501 L257.5 498.8 L255.8 496.4 L219.4 405.9 Z"/></clipPath>
<path d="M219 403.6 L219.7 401.4 L221.6 399.2 L224.9 397.2 L230.7 394.8 L237.1 392.9 L245.1 391 L253.3 389.5 L263.8 387.9 L288.7 385.1 L318.9 382.9 L350.7 381.6 L384 381.2 L417.3 381.6 L449.1 382.9 L479.3 385.1 L504.2 387.9 L514.7 389.5 L522.9 391 L530.9 392.9 L537.3 394.8 L543.1 397.2 L546.4 399.2 L548.3 401.4 L549 403.6 L548.6 405.9 L512.2 496.4 L510.5 498.8 L507.8 501 L505.4 502.3 L501.1 504.1 L495.8 505.8 L491 507 L477.4 509.6 L462 511.7 L446 513.2 L425.4 514.6 L406.6 515.3 L384 515.6 L361.4 515.3 L342.6 514.6 L322 513.2 L306 511.7 L290.6 509.6 L277 507 L272.2 505.8 L266.9 504.1 L262.6 502.3 L260.2 501 L257.5 498.8 L255.8 496.4 L219.4 405.9 Z" fill="none" stroke="#2a6bff" stroke-width="3" opacity="0.4" filter="url(#b2)"/>
<path d="M219 403.6 L219.7 401.4 L221.6 399.2 L224.9 397.2 L230.7 394.8 L237.1 392.9 L245.1 391 L253.3 389.5 L263.8 387.9 L288.7 385.1 L318.9 382.9 L350.7 381.6 L384 381.2 L417.3 381.6 L449.1 382.9 L479.3 385.1 L504.2 387.9 L514.7 389.5 L522.9 391 L530.9 392.9 L537.3 394.8 L543.1 397.2 L546.4 399.2 L548.3 401.4 L549 403.6 L548.6 405.9 L512.2 496.4 L510.5 498.8 L507.8 501 L505.4 502.3 L501.1 504.1 L495.8 505.8 L491 507 L477.4 509.6 L462 511.7 L446 513.2 L425.4 514.6 L406.6 515.3 L384 515.6 L361.4 515.3 L342.6 514.6 L322 513.2 L306 511.7 L290.6 509.6 L277 507 L272.2 505.8 L266.9 504.1 L262.6 502.3 L260.2 501 L257.5 498.8 L255.8 496.4 L219.4 405.9 Z" fill="none" stroke="url(#s_Action)" stroke-width="1.7"/>
<path d="M 224 406 A 160 20 0 0 0 544 406" fill="none" stroke="#3a7bff" stroke-width="3.5" opacity="0.6" filter="url(#b2)"/>
<path d="M 224 406 A 160 21.2 0 0 0 544 406 A 160 18.8 0 0 1 224 406 Z" fill="#f4f8ff"/>
<path d="M 224 406 A 160 20 0 0 0 544 406" fill="none" stroke="#f4f8ff" stroke-width="0.8"/>
<path d="M 224 406 A 160 2 0 0 1 544 406" fill="none" stroke="#c0d4ff" stroke-width="0.9" opacity="0.75"/>
<path d="M173.7 295 L173.9 293.9 L174.7 292.9 L176.9 291.2 L180.7 289.5 L186.2 288 L195.2 286.2 L204.9 284.7 L230.1 282 L263.3 279.7 L300.5 278.1 L341.3 277 L384 276.7 L426.7 277 L467.5 278.1 L504.7 279.7 L537.9 282 L563.1 284.7 L572.8 286.2 L581.8 288 L587.3 289.5 L591.1 291.2 L593.3 292.9 L594.1 293.9 L594.3 295 L594.1 296.1 L557.4 388.7 L555.4 391.3 L552.1 393.7 L547.6 395.7 L543.3 397.2 L536.1 399.1 L529.6 400.5 L511.1 403.4 L490.5 405.7 L468.7 407.5 L440.5 409.1 L410.5 410 L384 410.2 L357.5 410 L327.5 409.1 L299.4 407.5 L277.5 405.7 L256.9 403.4 L238.4 400.5 L231.9 399.1 L224.7 397.2 L220.4 395.7 L215.9 393.7 L212.6 391.3 L210.6 388.7 L173.9 296.1 Z" fill="url(#g_Desire)"/>
<clipPath id="c_Desire"><path d="M173.7 295 L173.9 293.9 L174.7 292.9 L176.9 291.2 L180.7 289.5 L186.2 288 L195.2 286.2 L204.9 284.7 L230.1 282 L263.3 279.7 L300.5 278.1 L341.3 277 L384 276.7 L426.7 277 L467.5 278.1 L504.7 279.7 L537.9 282 L563.1 284.7 L572.8 286.2 L581.8 288 L587.3 289.5 L591.1 291.2 L593.3 292.9 L594.1 293.9 L594.3 295 L594.1 296.1 L557.4 388.7 L555.4 391.3 L552.1 393.7 L547.6 395.7 L543.3 397.2 L536.1 399.1 L529.6 400.5 L511.1 403.4 L490.5 405.7 L468.7 407.5 L440.5 409.1 L410.5 410 L384 410.2 L357.5 410 L327.5 409.1 L299.4 407.5 L277.5 405.7 L256.9 403.4 L238.4 400.5 L231.9 399.1 L224.7 397.2 L220.4 395.7 L215.9 393.7 L212.6 391.3 L210.6 388.7 L173.9 296.1 Z"/></clipPath>
<g clip-path="url(#c_Desire)">
<ellipse cx="384" cy="372" rx="150" ry="38" fill="#0842c8" opacity="0.55" filter="url(#b25)"/>
<ellipse cx="215" cy="345" rx="60" ry="40" fill="#001a5a" opacity="0.6" filter="url(#b14)"/>
<ellipse cx="553" cy="345" rx="60" ry="40" fill="#001a5a" opacity="0.6" filter="url(#b14)"/>
</g>
<g clip-path="url(#cc_Desire)"><path d="M173.7 295 L173.9 293.9 L174.7 292.9 L176.9 291.2 L180.7 289.5 L186.2 288 L195.2 286.2 L204.9 284.7 L230.1 282 L263.3 279.7 L300.5 278.1 L341.3 277 L384 276.7 L426.7 277 L467.5 278.1 L504.7 279.7 L537.9 282 L563.1 284.7 L572.8 286.2 L581.8 288 L587.3 289.5 L591.1 291.2 L593.3 292.9 L594.1 293.9 L594.3 295 L594.1 296.1 L557.4 388.7 L555.4 391.3 L552.1 393.7 L547.6 395.7 L543.3 397.2 L536.1 399.1 L529.6 400.5 L511.1 403.4 L490.5 405.7 L468.7 407.5 L440.5 409.1 L410.5 410 L384 410.2 L357.5 410 L327.5 409.1 L299.4 407.5 L277.5 405.7 L256.9 403.4 L238.4 400.5 L231.9 399.1 L224.7 397.2 L220.4 395.7 L215.9 393.7 L212.6 391.3 L210.6 388.7 L173.9 296.1 Z" fill="none" stroke="#0a45d0" stroke-width="16" opacity="0.3" filter="url(#b8)"/></g>
<clipPath id="cc_Desire"><path d="M173.7 295 L173.9 293.9 L174.7 292.9 L176.9 291.2 L180.7 289.5 L186.2 288 L195.2 286.2 L204.9 284.7 L230.1 282 L263.3 279.7 L300.5 278.1 L341.3 277 L384 276.7 L426.7 277 L467.5 278.1 L504.7 279.7 L537.9 282 L563.1 284.7 L572.8 286.2 L581.8 288 L587.3 289.5 L591.1 291.2 L593.3 292.9 L594.1 293.9 L594.3 295 L594.1 296.1 L557.4 388.7 L555.4 391.3 L552.1 393.7 L547.6 395.7 L543.3 397.2 L536.1 399.1 L529.6 400.5 L511.1 403.4 L490.5 405.7 L468.7 407.5 L440.5 409.1 L410.5 410 L384 410.2 L357.5 410 L327.5 409.1 L299.4 407.5 L277.5 405.7 L256.9 403.4 L238.4 400.5 L231.9 399.1 L224.7 397.2 L220.4 395.7 L215.9 393.7 L212.6 391.3 L210.6 388.7 L173.9 296.1 Z"/></clipPath>
<path d="M173.7 295 L173.9 293.9 L174.7 292.9 L176.9 291.2 L180.7 289.5 L186.2 288 L195.2 286.2 L204.9 284.7 L230.1 282 L263.3 279.7 L300.5 278.1 L341.3 277 L384 276.7 L426.7 277 L467.5 278.1 L504.7 279.7 L537.9 282 L563.1 284.7 L572.8 286.2 L581.8 288 L587.3 289.5 L591.1 291.2 L593.3 292.9 L594.1 293.9 L594.3 295 L594.1 296.1 L557.4 388.7 L555.4 391.3 L552.1 393.7 L547.6 395.7 L543.3 397.2 L536.1 399.1 L529.6 400.5 L511.1 403.4 L490.5 405.7 L468.7 407.5 L440.5 409.1 L410.5 410 L384 410.2 L357.5 410 L327.5 409.1 L299.4 407.5 L277.5 405.7 L256.9 403.4 L238.4 400.5 L231.9 399.1 L224.7 397.2 L220.4 395.7 L215.9 393.7 L212.6 391.3 L210.6 388.7 L173.9 296.1 Z" fill="none" stroke="#2a6bff" stroke-width="3" opacity="0.4" filter="url(#b2)"/>
<path d="M173.7 295 L173.9 293.9 L174.7 292.9 L176.9 291.2 L180.7 289.5 L186.2 288 L195.2 286.2 L204.9 284.7 L230.1 282 L263.3 279.7 L300.5 278.1 L341.3 277 L384 276.7 L426.7 277 L467.5 278.1 L504.7 279.7 L537.9 282 L563.1 284.7 L572.8 286.2 L581.8 288 L587.3 289.5 L591.1 291.2 L593.3 292.9 L594.1 293.9 L594.3 295 L594.1 296.1 L557.4 388.7 L555.4 391.3 L552.1 393.7 L547.6 395.7 L543.3 397.2 L536.1 399.1 L529.6 400.5 L511.1 403.4 L490.5 405.7 L468.7 407.5 L440.5 409.1 L410.5 410 L384 410.2 L357.5 410 L327.5 409.1 L299.4 407.5 L277.5 405.7 L256.9 403.4 L238.4 400.5 L231.9 399.1 L224.7 397.2 L220.4 395.7 L215.9 393.7 L212.6 391.3 L210.6 388.7 L173.9 296.1 Z" fill="none" stroke="url(#s_Desire)" stroke-width="1.7"/>
<path d="M 179.5 297.5 A 204.5 15.8 0 0 0 588.5 297.5" fill="none" stroke="#3a7bff" stroke-width="3.5" opacity="0.6" filter="url(#b2)"/>
<path d="M 179.5 297.5 A 204.5 17.1 0 0 0 588.5 297.5 A 204.5 14.5 0 0 1 179.5 297.5 Z" fill="#f4f8ff"/>
<path d="M 179.5 297.5 A 204.5 15.8 0 0 0 588.5 297.5" fill="none" stroke="#f4f8ff" stroke-width="0.8"/>
<path d="M 179.5 297.5 A 204.5 1.2 0 0 1 588.5 297.5" fill="none" stroke="#c0d4ff" stroke-width="0.9" opacity="0.75"/>
<path d="M127 184.3 L127.2 183.7 L127.8 182.9 L128.8 182.2 L130.9 181.5 L136.2 180.7 L153.8 179.5 L180.1 178.4 L220.3 177.5 L269.6 176.7 L325.2 176.3 L384 176.1 L442.8 176.3 L498.4 176.7 L547.7 177.5 L587.9 178.4 L614.2 179.5 L631.8 180.7 L637.1 181.5 L639.2 182.2 L640.2 182.9 L640.8 183.7 L641 184.3 L604.3 278.9 L602.9 280.8 L599.8 282.8 L596.6 284.1 L592.4 285.2 L586.9 286.4 L577.8 287.9 L555.4 290.4 L528.5 292.5 L496.9 294.2 L461.4 295.5 L423.4 296.2 L384 296.5 L344.6 296.2 L306.6 295.5 L271.1 294.2 L239.5 292.5 L212.6 290.4 L190.2 287.9 L181.1 286.4 L175.6 285.2 L171.4 284.1 L168.2 282.8 L165.1 280.8 L163.7 278.9 Z" fill="url(#g_Interest)"/>
<g clip-path="url(#cc_Interest)"><path d="M127 184.3 L127.2 183.7 L127.8 182.9 L128.8 182.2 L130.9 181.5 L136.2 180.7 L153.8 179.5 L180.1 178.4 L220.3 177.5 L269.6 176.7 L325.2 176.3 L384 176.1 L442.8 176.3 L498.4 176.7 L547.7 177.5 L587.9 178.4 L614.2 179.5 L631.8 180.7 L637.1 181.5 L639.2 182.2 L640.2 182.9 L640.8 183.7 L641 184.3 L604.3 278.9 L602.9 280.8 L599.8 282.8 L596.6 284.1 L592.4 285.2 L586.9 286.4 L577.8 287.9 L555.4 290.4 L528.5 292.5 L496.9 294.2 L461.4 295.5 L423.4 296.2 L384 296.5 L344.6 296.2 L306.6 295.5 L271.1 294.2 L239.5 292.5 L212.6 290.4 L190.2 287.9 L181.1 286.4 L175.6 285.2 L171.4 284.1 L168.2 282.8 L165.1 280.8 L163.7 278.9 Z" fill="none" stroke="#0a45d0" stroke-width="16" opacity="0.3" filter="url(#b8)"/></g>
<clipPath id="cc_Interest"><path d="M127 184.3 L127.2 183.7 L127.8 182.9 L128.8 182.2 L130.9 181.5 L136.2 180.7 L153.8 179.5 L180.1 178.4 L220.3 177.5 L269.6 176.7 L325.2 176.3 L384 176.1 L442.8 176.3 L498.4 176.7 L547.7 177.5 L587.9 178.4 L614.2 179.5 L631.8 180.7 L637.1 181.5 L639.2 182.2 L640.2 182.9 L640.8 183.7 L641 184.3 L604.3 278.9 L602.9 280.8 L599.8 282.8 L596.6 284.1 L592.4 285.2 L586.9 286.4 L577.8 287.9 L555.4 290.4 L528.5 292.5 L496.9 294.2 L461.4 295.5 L423.4 296.2 L384 296.5 L344.6 296.2 L306.6 295.5 L271.1 294.2 L239.5 292.5 L212.6 290.4 L190.2 287.9 L181.1 286.4 L175.6 285.2 L171.4 284.1 L168.2 282.8 L165.1 280.8 L163.7 278.9 Z"/></clipPath>
<path d="M127 184.3 L127.2 183.7 L127.8 182.9 L128.8 182.2 L130.9 181.5 L136.2 180.7 L153.8 179.5 L180.1 178.4 L220.3 177.5 L269.6 176.7 L325.2 176.3 L384 176.1 L442.8 176.3 L498.4 176.7 L547.7 177.5 L587.9 178.4 L614.2 179.5 L631.8 180.7 L637.1 181.5 L639.2 182.2 L640.2 182.9 L640.8 183.7 L641 184.3 L604.3 278.9 L602.9 280.8 L599.8 282.8 L596.6 284.1 L592.4 285.2 L586.9 286.4 L577.8 287.9 L555.4 290.4 L528.5 292.5 L496.9 294.2 L461.4 295.5 L423.4 296.2 L384 296.5 L344.6 296.2 L306.6 295.5 L271.1 294.2 L239.5 292.5 L212.6 290.4 L190.2 287.9 L181.1 286.4 L175.6 285.2 L171.4 284.1 L168.2 282.8 L165.1 280.8 L163.7 278.9 Z" fill="none" stroke="#2a6bff" stroke-width="3" opacity="0.4" filter="url(#b2)"/>
<path d="M127 184.3 L127.2 183.7 L127.8 182.9 L128.8 182.2 L130.9 181.5 L136.2 180.7 L153.8 179.5 L180.1 178.4 L220.3 177.5 L269.6 176.7 L325.2 176.3 L384 176.1 L442.8 176.3 L498.4 176.7 L547.7 177.5 L587.9 178.4 L614.2 179.5 L631.8 180.7 L637.1 181.5 L639.2 182.2 L640.2 182.9 L640.8 183.7 L641 184.3 L604.3 278.9 L602.9 280.8 L599.8 282.8 L596.6 284.1 L592.4 285.2 L586.9 286.4 L577.8 287.9 L555.4 290.4 L528.5 292.5 L496.9 294.2 L461.4 295.5 L423.4 296.2 L384 296.5 L344.6 296.2 L306.6 295.5 L271.1 294.2 L239.5 292.5 L212.6 290.4 L190.2 287.9 L181.1 286.4 L175.6 285.2 L171.4 284.1 L168.2 282.8 L165.1 280.8 L163.7 278.9 Z" fill="none" stroke="url(#s_Interest)" stroke-width="1.7"/>
<path d="M 133.5 185.2 A 250.5 7.1 0 0 0 634.5 185.2" fill="none" stroke="#3a7bff" stroke-width="3.5" opacity="0.6" filter="url(#b2)"/>
<path d="M 133.5 185.2 A 250.5 8.5 0 0 0 634.5 185.2 A 250.5 5.7 0 0 1 133.5 185.2 Z" fill="#f4f8ff"/>
<path d="M 133.5 185.2 A 250.5 7.1 0 0 0 634.5 185.2" fill="none" stroke="#f4f8ff" stroke-width="0.8"/>
<path d="M 133.5 185.2 A 250.5 0.8 0 0 1 634.5 185.2" fill="none" stroke="#c0d4ff" stroke-width="0.9" opacity="0.75"/>
<path d="M78 70 L78.2 69.2 L78.9 68.3 L80.2 67.6 L82.6 66.8 L87.5 66 L106.8 64.6 L136.8 63.5 L183.3 62.4 L240.9 61.6 L306.4 61 L384 60.8 L461.6 61 L527.1 61.6 L584.7 62.4 L631.2 63.5 L661.2 64.6 L680.5 66 L685.4 66.8 L687.8 67.6 L689.1 68.3 L689.8 69.2 L690 70 L649.2 165 L648.2 166.4 L646.9 167.3 L645.2 168.1 L638.3 169 L624.2 169.9 L602.1 170.7 L567.8 171.5 L483.5 172.6 L384 173 L284.5 172.6 L200.2 171.5 L165.9 170.7 L143.8 169.9 L129.7 169 L122.8 168.1 L121.1 167.3 L119.8 166.4 L118.8 165 Z" fill="url(#g_Awareness)"/>
<path d="M78 70 L78.2 69.2 L78.9 68.3 L80.2 67.6 L82.6 66.8 L87.5 66 L106.8 64.6 L136.8 63.5 L183.3 62.4 L240.9 61.6 L306.4 61 L384 60.8 L461.6 61 L527.1 61.6 L584.7 62.4 L631.2 63.5 L661.2 64.6 L680.5 66 L685.4 66.8 L687.8 67.6 L689.1 68.3 L689.8 69.2 L690 70 L649.2 165 L648.2 166.4 L646.9 167.3 L645.2 168.1 L638.3 169 L624.2 169.9 L602.1 170.7 L567.8 171.5 L483.5 172.6 L384 173 L284.5 172.6 L200.2 171.5 L165.9 170.7 L143.8 169.9 L129.7 169 L122.8 168.1 L121.1 167.3 L119.8 166.4 L118.8 165 Z" fill="none" stroke="#2a6bff" stroke-width="3" opacity="0.4" filter="url(#b2)"/>
<path d="M78 70 L78.2 69.2 L78.9 68.3 L80.2 67.6 L82.6 66.8 L87.5 66 L106.8 64.6 L136.8 63.5 L183.3 62.4 L240.9 61.6 L306.4 61 L384 60.8 L461.6 61 L527.1 61.6 L584.7 62.4 L631.2 63.5 L661.2 64.6 L680.5 66 L685.4 66.8 L687.8 67.6 L689.1 68.3 L689.8 69.2 L690 70 L649.2 165 L648.2 166.4 L646.9 167.3 L645.2 168.1 L638.3 169 L624.2 169.9 L602.1 170.7 L567.8 171.5 L483.5 172.6 L384 173 L284.5 172.6 L200.2 171.5 L165.9 170.7 L143.8 169.9 L129.7 169 L122.8 168.1 L121.1 167.3 L119.8 166.4 L118.8 165 Z" fill="none" stroke="url(#s_Awareness)" stroke-width="1.3"/>
<g font-family="Liberation Sans, sans-serif" font-weight="normal" fill="#fff" stroke="#fff" stroke-width="1.0" stroke-linejoin="round" text-anchor="middle">
<text x="384.7" y="128.5" font-size="38.5" textLength="197.6" lengthAdjust="spacingAndGlyphs">Awareness</text>
<text x="383.5" y="252" font-size="36" textLength="133" lengthAdjust="spacingAndGlyphs">Interest</text>
<text x="384.2" y="371.5" font-size="35" textLength="103.5" lengthAdjust="spacingAndGlyphs">Desire</text>
<text x="385" y="478.9" font-size="32.5" textLength="99" lengthAdjust="spacingAndGlyphs">Action</text>
<text x="383" y="576.4" font-size="28.8" textLength="104" lengthAdjust="spacingAndGlyphs">Loyalty</text>
<text x="384.7" y="655.5" font-size="21.5" textLength="98.5" lengthAdjust="spacingAndGlyphs">Advocacy</text>
</g>
<g fill="none" stroke-linecap="butt">
<linearGradient id="ng" gradientUnits="userSpaceOnUse" x1="48" y1="736" x2="60" y2="751"><stop offset="0.3" stop-color="#3a9b86"/><stop offset="1" stop-color="#2f5fd8"/></linearGradient>
<path d="M 31.6 730.5 A 11.6 11.6 0 1 1 19.4 730.5" stroke="#3a9b86" stroke-width="2.5"/>
<line x1="22.2" y1="724.3" x2="22.2" y2="736" stroke="#3a9b86" stroke-width="1.3"/>
<line x1="25.5" y1="724.3" x2="25.5" y2="736" stroke="#3a9b86" stroke-width="1.3"/>
<line x1="28.8" y1="724.3" x2="28.8" y2="736" stroke="#3a9b86" stroke-width="1.3"/>
<path d="M 41.4 752 V 727.8 L 59.8 751 V 727.5" stroke="url(#ng)" stroke-width="2.8" stroke-linejoin="miter"/>
</g>
<g fill="none" stroke="#fff" stroke-width="2.1">
<path d="M 63.2 735 V 750.2 H 70 A 11.2 11.2 0 0 0 70 728 H 62.7"/>
<path d="M 89.8 727.8 V 750.4"/>
<path d="M 114.9 732.2 A 10.9 10.9 0 1 0 116 744.6 V 740.5 H 107.8"/>
<path d="M 123.4 727.8 V 750.4"/>
<path d="M 128.4 728.6 H 148.4 M 138.4 728.6 V 750.4"/>
<path d="M 148 750.8 L 158.5 728 L 169 750.8 M 151.8 743.9 H 165.2"/>
<path d="M 175.8 727.8 V 750.2 H 189"/>
</g>
<circle cx="181.7" cy="744.8" r="2.4" fill="#fff"/>
</svg>
</body></html>
